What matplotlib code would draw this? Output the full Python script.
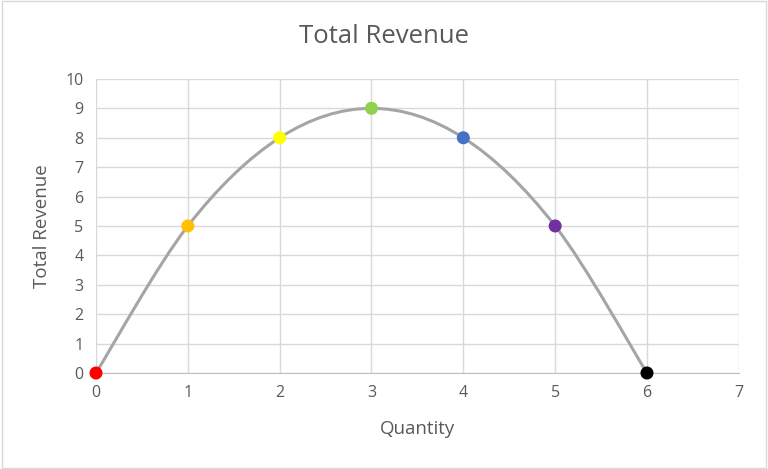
import numpy as np
import matplotlib
matplotlib.use("Agg")
import matplotlib.pyplot as plt
from matplotlib.path import Path
from matplotlib.patches import PathPatch, Rectangle

quantity = [0, 1, 2, 3, 4, 5, 6]
revenue = [0, 5, 8, 9, 8, 5, 0]
point_colors = ["#FF0000", "#FFC000", "#FFFF00", "#92D050", "#4472C4", "#7030A0", "#000000"]

plt.rcParams['font.family'] = ['Open Sans', 'DejaVu Sans']
txt = "#595959"
grid = "#D9D9D9"

fig = plt.figure(figsize=(7.68, 4.69), dpi=100)
ax = fig.add_axes([0.125, 0.2047, 0.837, 0.627])

# Excel-style smoothed line: cubic bezier through the points
pts = np.column_stack([quantity, revenue]).astype(float)
verts = [pts[0]]
codes = [Path.MOVETO]
n = len(pts)
for i in range(n - 1):
    p0 = pts[i - 1] if i > 0 else pts[i]
    p1 = pts[i]
    p2 = pts[i + 1]
    p3 = pts[i + 2] if i + 2 < n else pts[i + 1]
    c1 = p1 + (p2 - p0) / 6
    c2 = p2 - (p3 - p1) / 6
    verts += [c1, c2, p2]
    codes += [Path.CURVE4] * 3
ax.add_patch(PathPatch(Path(verts, codes), facecolor="none", edgecolor="#A5A5A5", lw=2.2, zorder=3))

ax.scatter(quantity, revenue, c=point_colors, s=70, zorder=4, clip_on=False)

ax.set_xlim(0, 7)
ax.set_ylim(0, 10)
ax.set_xticks(range(0, 8))
ax.set_yticks(range(0, 11))
ax.grid(True, color=grid, lw=1)
ax.set_axisbelow(True)
for s in ["top", "right", "left"]:
    ax.spines[s].set_visible(False)
ax.spines["bottom"].set_color("#BFBFBF")
ax.tick_params(length=0, colors=txt, labelsize=11.5, pad=9)

fig.text(0.5, 0.922, "Total Revenue", fontsize=18.5, color=txt, ha="center", va="center")
ax.set_xlabel("Quantity", fontsize=13.5, color=txt, labelpad=13)
ax.set_ylabel("Total Revenue", fontsize=13.5, color=txt, labelpad=10)

fig.patches.append(Rectangle((0.002, 0.003), 0.996, 0.994, transform=fig.transFigure,
                             fill=False, edgecolor="#D9D9D9", lw=1))

fig.savefig("out.png", dpi=100)
